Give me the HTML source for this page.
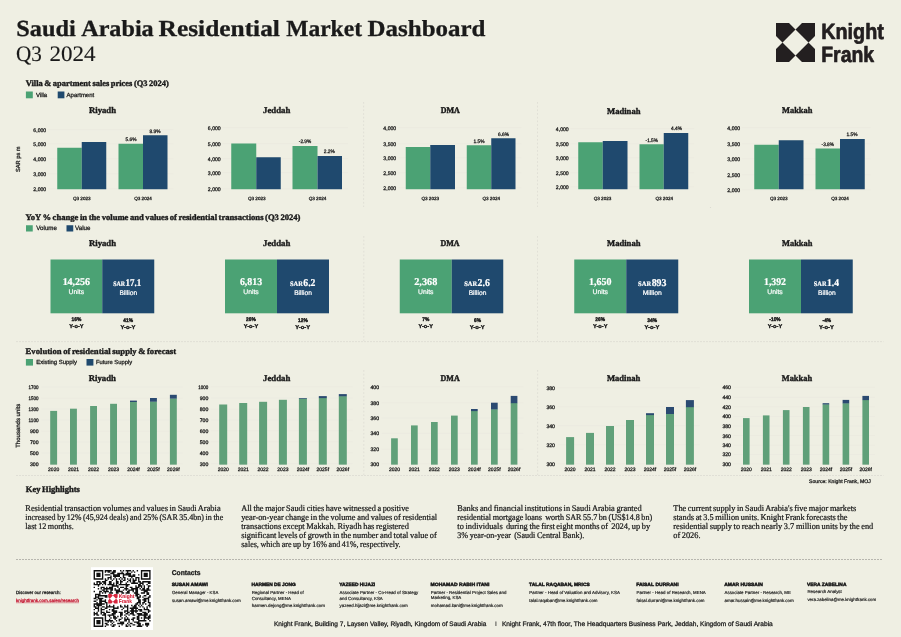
<!DOCTYPE html>
<html><head><meta charset="utf-8"><title>Saudi Arabia Residential Market Dashboard Q3 2024</title>
<style>
html,body{margin:0;padding:0;}
body{width:901px;height:637px;overflow:hidden;background:#efefe3;}
svg{display:block;position:absolute;left:0;top:0;will-change:transform;}
text{fill:#1a1a1a;stroke:#1a1a1a;stroke-width:0.27px;stroke-linejoin:round;white-space:pre;}
.ss{font-family:"Liberation Sans",sans-serif;font-weight:400;}
.ssb{font-family:"Liberation Sans",sans-serif;font-weight:700;}
.sf{font-family:"Liberation Serif",serif;font-weight:400;stroke-width:0.24px;word-spacing:-0.5px;}
.sfb{font-family:"Liberation Serif",serif;font-weight:700;stroke-width:0.38px;word-spacing:-0.6px;}
</style></head>
<body>
<svg width="901" height="637" viewBox="0 0 901 637" text-rendering="geometricPrecision">
<path transform="translate(776 22.9) scale(6.5)" fill="#231f20" fill-rule="evenodd" d="M0 0H2L3 1L4 0H6V2L5 3L6 4V6H4L3 5L2 6H0V4L1 3L0 2ZM3 1L5 3L3 5L1 3Z"/>
<rect x="25.9" y="91.5" width="6.9" height="6.8" fill="#4ba274"/>
<rect x="57.7" y="91.5" width="6.7" height="6.8" fill="#1f496e"/>
<rect x="47.75" y="129.25" width="125.75" height="0.8" fill="#ebeae0"/>
<rect x="47.75" y="143.5" width="125.75" height="0.8" fill="#ebeae0"/>
<rect x="47.75" y="158.5" width="125.75" height="0.8" fill="#ebeae0"/>
<rect x="47.75" y="173.5" width="125.75" height="0.8" fill="#ebeae0"/>
<rect x="47.75" y="188.5" width="125.75" height="0.8" fill="#ebeae0"/>
<rect x="57.25" y="147.75" width="24.5" height="41.5" fill="#4ba274"/>
<rect x="81.75" y="142" width="24.5" height="47.25" fill="#1f496e"/>
<rect x="118.5" y="143.75" width="24.5" height="45.5" fill="#4ba274"/>
<rect x="143" y="135.25" width="24.5" height="54" fill="#1f496e"/>
<rect x="222.25" y="127.25" width="125.75" height="0.8" fill="#ebeae0"/>
<rect x="222.25" y="143.25" width="125.75" height="0.8" fill="#ebeae0"/>
<rect x="222.25" y="158.25" width="125.75" height="0.8" fill="#ebeae0"/>
<rect x="222.25" y="172.25" width="125.75" height="0.8" fill="#ebeae0"/>
<rect x="222.25" y="188.5" width="125.75" height="0.8" fill="#ebeae0"/>
<rect x="231.25" y="143.5" width="25" height="45.75" fill="#4ba274"/>
<rect x="256.25" y="157.25" width="24.5" height="32" fill="#1f496e"/>
<rect x="292.5" y="146" width="25" height="43.25" fill="#4ba274"/>
<rect x="317.5" y="156" width="24.5" height="33.25" fill="#1f496e"/>
<rect x="397.75" y="127.25" width="123.75" height="0.8" fill="#ebeae0"/>
<rect x="397.75" y="143.5" width="123.75" height="0.8" fill="#ebeae0"/>
<rect x="397.75" y="157.5" width="123.75" height="0.8" fill="#ebeae0"/>
<rect x="397.75" y="172.5" width="123.75" height="0.8" fill="#ebeae0"/>
<rect x="397.75" y="187.5" width="123.75" height="0.8" fill="#ebeae0"/>
<rect x="405.75" y="147" width="24.5" height="42.25" fill="#4ba274"/>
<rect x="430.25" y="145" width="24.75" height="44.25" fill="#1f496e"/>
<rect x="466.75" y="145.25" width="24.5" height="44" fill="#4ba274"/>
<rect x="491.25" y="138.25" width="24.25" height="51" fill="#1f496e"/>
<rect x="570.25" y="128.25" width="124" height="0.8" fill="#ebeae0"/>
<rect x="570.25" y="143.5" width="124" height="0.8" fill="#ebeae0"/>
<rect x="570.25" y="157.5" width="124" height="0.8" fill="#ebeae0"/>
<rect x="570.25" y="172.5" width="124" height="0.8" fill="#ebeae0"/>
<rect x="570.25" y="186.5" width="124" height="0.8" fill="#ebeae0"/>
<rect x="578.25" y="142.25" width="24.5" height="47" fill="#4ba274"/>
<rect x="602.75" y="141" width="24.75" height="48.25" fill="#1f496e"/>
<rect x="639.5" y="144.25" width="24.25" height="45" fill="#4ba274"/>
<rect x="663.75" y="133" width="24.5" height="56.25" fill="#1f496e"/>
<rect x="741.75" y="127.25" width="129" height="0.8" fill="#ebeae0"/>
<rect x="741.75" y="143.5" width="129" height="0.8" fill="#ebeae0"/>
<rect x="741.75" y="158.5" width="129" height="0.8" fill="#ebeae0"/>
<rect x="741.75" y="174.5" width="129" height="0.8" fill="#ebeae0"/>
<rect x="741.75" y="189.5" width="129" height="0.8" fill="#ebeae0"/>
<rect x="754.25" y="144.75" width="24.5" height="44.5" fill="#4ba274"/>
<rect x="778.75" y="140.25" width="24.75" height="49" fill="#1f496e"/>
<rect x="815.5" y="148.5" width="24.5" height="40.75" fill="#4ba274"/>
<rect x="840" y="139" width="24.75" height="50.25" fill="#1f496e"/>
<line x1="363.6" y1="102" x2="363.6" y2="207" stroke="#dfded5" stroke-width="0.9" stroke-dasharray="1.7 2"/>
<line x1="537.5" y1="102" x2="537.5" y2="207" stroke="#dfded5" stroke-width="0.9" stroke-dasharray="1.7 2"/>
<circle cx="710.5" cy="207.5" r="0.6" fill="#d9d8cf"/>
<rect x="26" y="225.25" width="6.75" height="6.25" fill="#4ba274"/>
<rect x="66.5" y="225.25" width="6.75" height="6.25" fill="#1f496e"/>
<rect x="50.5" y="259.5" width="51.75" height="53.8" fill="#4ba274"/>
<rect x="102.25" y="259.5" width="52" height="53.8" fill="#1f496e"/>
<rect x="225" y="259.5" width="52" height="53.8" fill="#4ba274"/>
<rect x="277" y="259.5" width="52" height="53.8" fill="#1f496e"/>
<rect x="399.75" y="259.5" width="52" height="53.8" fill="#4ba274"/>
<rect x="451.75" y="259.5" width="51.5" height="53.8" fill="#1f496e"/>
<rect x="574.25" y="259.5" width="52" height="53.8" fill="#4ba274"/>
<rect x="626.25" y="259.5" width="52" height="53.8" fill="#1f496e"/>
<rect x="749" y="259.5" width="52" height="53.8" fill="#4ba274"/>
<rect x="801" y="259.5" width="51.75" height="53.8" fill="#1f496e"/>
<line x1="363.75" y1="236" x2="363.75" y2="341" stroke="#dfded5" stroke-width="0.9" stroke-dasharray="1.7 2"/>
<line x1="537.5" y1="236" x2="537.5" y2="341" stroke="#dfded5" stroke-width="0.9" stroke-dasharray="1.7 2"/>
<line x1="16" y1="341.6" x2="883.5" y2="341.6" stroke="#e0dfd6" stroke-width="1" stroke-dasharray="2 1"/>
<rect x="25.9" y="359" width="7.1" height="6.6" fill="#4ba274"/>
<rect x="86.5" y="359" width="6.9" height="6.6" fill="#1f496e"/>
<rect x="41.1" y="386.6" width="141.7" height="0.8" fill="#ebeae0"/>
<rect x="41.1" y="397.7" width="141.7" height="0.8" fill="#ebeae0"/>
<rect x="41.1" y="408.6" width="141.7" height="0.8" fill="#ebeae0"/>
<rect x="41.1" y="419.6" width="141.7" height="0.8" fill="#ebeae0"/>
<rect x="41.1" y="430.7" width="141.7" height="0.8" fill="#ebeae0"/>
<rect x="41.1" y="441.6" width="141.7" height="0.8" fill="#ebeae0"/>
<rect x="41.1" y="452.6" width="141.7" height="0.8" fill="#ebeae0"/>
<rect x="41.1" y="463.5" width="141.7" height="0.8" fill="#ebeae0"/>
<rect x="50.2" y="410.9" width="6.9" height="53.75" fill="#60a079"/>
<rect x="70" y="408.7" width="6.9" height="55.95" fill="#60a079"/>
<rect x="90.1" y="406" width="6.9" height="58.65" fill="#60a079"/>
<rect x="110.1" y="403.8" width="6.9" height="60.85" fill="#60a079"/>
<rect x="130" y="401.8" width="6.9" height="62.85" fill="#60a079"/>
<rect x="130" y="400.6" width="6.9" height="1.4" fill="#2b4a71"/>
<rect x="150" y="401.5" width="6.9" height="63.15" fill="#60a079"/>
<rect x="150" y="398" width="6.9" height="3.7" fill="#2b4a71"/>
<rect x="169.9" y="398.4" width="6.9" height="66.25" fill="#60a079"/>
<rect x="169.9" y="394.8" width="6.9" height="3.8" fill="#2b4a71"/>
<rect x="210.8" y="386.5" width="142" height="0.8" fill="#ebeae0"/>
<rect x="210.8" y="397.6" width="142" height="0.8" fill="#ebeae0"/>
<rect x="210.8" y="408.7" width="142" height="0.8" fill="#ebeae0"/>
<rect x="210.8" y="419.6" width="142" height="0.8" fill="#ebeae0"/>
<rect x="210.8" y="430.4" width="142" height="0.8" fill="#ebeae0"/>
<rect x="210.8" y="441.5" width="142" height="0.8" fill="#ebeae0"/>
<rect x="210.8" y="452.4" width="142" height="0.8" fill="#ebeae0"/>
<rect x="210.8" y="463.3" width="142" height="0.8" fill="#ebeae0"/>
<rect x="219.2" y="404.5" width="8" height="60.15" fill="#60a079"/>
<rect x="239.2" y="403" width="8" height="61.65" fill="#60a079"/>
<rect x="259.1" y="401.8" width="8" height="62.85" fill="#60a079"/>
<rect x="278.9" y="399.8" width="8" height="64.85" fill="#60a079"/>
<rect x="298.9" y="398.5" width="8" height="66.15" fill="#60a079"/>
<rect x="298.9" y="398" width="8" height="0.7" fill="#2b4a71"/>
<rect x="318.8" y="397.9" width="8" height="66.75" fill="#60a079"/>
<rect x="318.8" y="396.1" width="8" height="2" fill="#2b4a71"/>
<rect x="338.8" y="396.1" width="8" height="68.55" fill="#60a079"/>
<rect x="338.8" y="394.1" width="8" height="2.2" fill="#2b4a71"/>
<rect x="381.6" y="386.5" width="141.8" height="0.8" fill="#ebeae0"/>
<rect x="381.6" y="402.5" width="141.8" height="0.8" fill="#ebeae0"/>
<rect x="381.6" y="417.6" width="141.8" height="0.8" fill="#ebeae0"/>
<rect x="381.6" y="432.9" width="141.8" height="0.8" fill="#ebeae0"/>
<rect x="381.6" y="448.7" width="141.8" height="0.8" fill="#ebeae0"/>
<rect x="381.6" y="463.5" width="141.8" height="0.8" fill="#ebeae0"/>
<rect x="391.1" y="438.3" width="6.7" height="26.35" fill="#60a079"/>
<rect x="411" y="425.4" width="6.7" height="39.25" fill="#60a079"/>
<rect x="431" y="422" width="6.7" height="42.65" fill="#60a079"/>
<rect x="451" y="415.6" width="6.7" height="49.05" fill="#60a079"/>
<rect x="471" y="410.9" width="6.7" height="53.75" fill="#60a079"/>
<rect x="471" y="409" width="6.7" height="2.1" fill="#2b4a71"/>
<rect x="491" y="409.2" width="6.7" height="55.45" fill="#60a079"/>
<rect x="491" y="402.7" width="6.7" height="6.7" fill="#2b4a71"/>
<rect x="510.7" y="403" width="6.7" height="61.65" fill="#60a079"/>
<rect x="510.7" y="395.9" width="6.7" height="7.3" fill="#2b4a71"/>
<rect x="557.5" y="387.4" width="142.4" height="0.8" fill="#ebeae0"/>
<rect x="557.5" y="406.5" width="142.4" height="0.8" fill="#ebeae0"/>
<rect x="557.5" y="425.3" width="142.4" height="0.8" fill="#ebeae0"/>
<rect x="557.5" y="444.4" width="142.4" height="0.8" fill="#ebeae0"/>
<rect x="557.5" y="463.5" width="142.4" height="0.8" fill="#ebeae0"/>
<rect x="566.1" y="437.1" width="8" height="27.55" fill="#60a079"/>
<rect x="586" y="432.9" width="8" height="31.75" fill="#60a079"/>
<rect x="606" y="426" width="8" height="38.65" fill="#60a079"/>
<rect x="626" y="420" width="8" height="44.65" fill="#60a079"/>
<rect x="646" y="414.9" width="8" height="49.75" fill="#60a079"/>
<rect x="646" y="413.2" width="8" height="1.9" fill="#2b4a71"/>
<rect x="666" y="413.8" width="8" height="50.85" fill="#60a079"/>
<rect x="666" y="407" width="8" height="7" fill="#2b4a71"/>
<rect x="685.9" y="407" width="8" height="57.65" fill="#60a079"/>
<rect x="685.9" y="400.1" width="8" height="7.1" fill="#2b4a71"/>
<rect x="733.5" y="386.7" width="141.5" height="0.8" fill="#ebeae0"/>
<rect x="733.5" y="396.9" width="141.5" height="0.8" fill="#ebeae0"/>
<rect x="733.5" y="406.5" width="141.5" height="0.8" fill="#ebeae0"/>
<rect x="733.5" y="416" width="141.5" height="0.8" fill="#ebeae0"/>
<rect x="733.5" y="425.6" width="141.5" height="0.8" fill="#ebeae0"/>
<rect x="733.5" y="435.1" width="141.5" height="0.8" fill="#ebeae0"/>
<rect x="733.5" y="444.7" width="141.5" height="0.8" fill="#ebeae0"/>
<rect x="733.5" y="454" width="141.5" height="0.8" fill="#ebeae0"/>
<rect x="733.5" y="463.5" width="141.5" height="0.8" fill="#ebeae0"/>
<rect x="743" y="418.1" width="6.6" height="46.55" fill="#60a079"/>
<rect x="762.9" y="415.4" width="6.6" height="49.25" fill="#60a079"/>
<rect x="782.9" y="410.1" width="6.6" height="54.55" fill="#60a079"/>
<rect x="802.9" y="407" width="6.6" height="57.65" fill="#60a079"/>
<rect x="822.6" y="404.3" width="6.6" height="60.35" fill="#60a079"/>
<rect x="822.6" y="403.2" width="6.6" height="1.3" fill="#2b4a71"/>
<rect x="842.6" y="403.2" width="6.6" height="61.45" fill="#60a079"/>
<rect x="842.6" y="399.9" width="6.6" height="3.5" fill="#2b4a71"/>
<rect x="862.4" y="399.9" width="6.6" height="64.75" fill="#60a079"/>
<rect x="862.4" y="395.9" width="6.6" height="4.2" fill="#2b4a71"/>
<line x1="363.75" y1="370" x2="363.75" y2="475" stroke="#dfded5" stroke-width="0.9" stroke-dasharray="1.7 2"/>
<line x1="537.6" y1="370" x2="537.6" y2="475" stroke="#dfded5" stroke-width="0.9" stroke-dasharray="1.7 2"/>
<line x1="16" y1="475.5" x2="883.5" y2="475.5" stroke="#e0dfd6" stroke-width="1" stroke-dasharray="2 1"/>
<line x1="16" y1="559.5" x2="883" y2="559.5" stroke="#b7b6ae" stroke-width="1" stroke-dasharray="2 1"/>
<rect x="16" y="602.7" width="63" height="0.4" fill="#c4122f"/>
<rect x="91" y="567.2" width="62" height="62.8" fill="#fff"/>
<path transform="translate(93.6 570.0) scale(1.39)" fill="#111" d="M0 0h7v1h-7zM8 0h5v1h-5zM14 0h2v1h-2zM19 0h1v1h-1zM21 0h1v1h-1zM23 0h4v1h-4zM28 0h1v1h-1zM31 0h1v1h-1zM34 0h7v1h-7zM0 1h1v1h-1zM6 1h1v1h-1zM8 1h1v1h-1zM10 1h2v1h-2zM13 1h3v1h-3zM20 1h1v1h-1zM24 1h1v1h-1zM27 1h1v1h-1zM29 1h1v1h-1zM34 1h1v1h-1zM40 1h1v1h-1zM0 2h1v1h-1zM2 2h3v1h-3zM6 2h1v1h-1zM12 2h3v1h-3zM17 2h5v1h-5zM23 2h4v1h-4zM34 2h1v1h-1zM36 2h3v1h-3zM40 2h1v1h-1zM0 3h1v1h-1zM2 3h3v1h-3zM6 3h1v1h-1zM8 3h4v1h-4zM14 3h5v1h-5zM21 3h6v1h-6zM28 3h2v1h-2zM32 3h1v1h-1zM34 3h1v1h-1zM36 3h3v1h-3zM40 3h1v1h-1zM0 4h1v1h-1zM2 4h3v1h-3zM6 4h1v1h-1zM12 4h1v1h-1zM14 4h5v1h-5zM21 4h1v1h-1zM25 4h5v1h-5zM34 4h1v1h-1zM36 4h3v1h-3zM40 4h1v1h-1zM0 5h1v1h-1zM6 5h1v1h-1zM10 5h3v1h-3zM15 5h1v1h-1zM19 5h1v1h-1zM21 5h2v1h-2zM27 5h1v1h-1zM30 5h3v1h-3zM34 5h1v1h-1zM40 5h1v1h-1zM0 6h7v1h-7zM8 6h1v1h-1zM10 6h1v1h-1zM12 6h1v1h-1zM14 6h1v1h-1zM16 6h1v1h-1zM18 6h1v1h-1zM20 6h1v1h-1zM22 6h1v1h-1zM24 6h1v1h-1zM26 6h1v1h-1zM28 6h1v1h-1zM30 6h1v1h-1zM32 6h1v1h-1zM34 6h7v1h-7zM8 7h2v1h-2zM13 7h1v1h-1zM16 7h1v1h-1zM19 7h1v1h-1zM21 7h2v1h-2zM25 7h2v1h-2zM28 7h3v1h-3zM32 7h1v1h-1zM2 8h3v1h-3zM6 8h3v1h-3zM11 8h2v1h-2zM16 8h2v1h-2zM19 8h2v1h-2zM24 8h1v1h-1zM26 8h1v1h-1zM28 8h2v1h-2zM32 8h2v1h-2zM35 8h6v1h-6zM0 9h1v1h-1zM2 9h1v1h-1zM4 9h2v1h-2zM7 9h2v1h-2zM11 9h2v1h-2zM14 9h1v1h-1zM16 9h2v1h-2zM19 9h1v1h-1zM23 9h1v1h-1zM27 9h5v1h-5zM33 9h3v1h-3zM39 9h2v1h-2zM0 10h5v1h-5zM6 10h1v1h-1zM8 10h1v1h-1zM10 10h5v1h-5zM16 10h1v1h-1zM18 10h8v1h-8zM32 10h2v1h-2zM35 10h1v1h-1zM38 10h1v1h-1zM3 11h1v1h-1zM13 11h5v1h-5zM23 11h2v1h-2zM30 11h1v1h-1zM32 11h3v1h-3zM36 11h1v1h-1zM39 11h2v1h-2zM0 12h1v1h-1zM5 12h3v1h-3zM9 12h1v1h-1zM11 12h3v1h-3zM17 12h1v1h-1zM19 12h3v1h-3zM23 12h1v1h-1zM26 12h2v1h-2zM30 12h3v1h-3zM34 12h1v1h-1zM36 12h1v1h-1zM39 12h1v1h-1zM3 13h1v1h-1zM5 13h1v1h-1zM7 13h7v1h-7zM15 13h1v1h-1zM18 13h1v1h-1zM22 13h3v1h-3zM27 13h5v1h-5zM33 13h1v1h-1zM35 13h2v1h-2zM38 13h2v1h-2zM6 14h2v1h-2zM9 14h1v1h-1zM12 14h2v1h-2zM15 14h4v1h-4zM21 14h1v1h-1zM23 14h1v1h-1zM25 14h4v1h-4zM30 14h2v1h-2zM34 14h7v1h-7zM0 15h1v1h-1zM4 15h2v1h-2zM7 15h4v1h-4zM12 15h1v1h-1zM16 15h5v1h-5zM24 15h2v1h-2zM28 15h1v1h-1zM30 15h2v1h-2zM36 15h3v1h-3zM4 16h1v1h-1zM6 16h1v1h-1zM8 16h1v1h-1zM11 16h3v1h-3zM16 16h2v1h-2zM20 16h2v1h-2zM23 16h3v1h-3zM29 16h3v1h-3zM34 16h3v1h-3zM38 16h2v1h-2zM1 17h4v1h-4zM30 17h3v1h-3zM38 17h2v1h-2zM1 18h1v1h-1zM3 18h7v1h-7zM30 18h2v1h-2zM33 18h1v1h-1zM36 18h2v1h-2zM40 18h1v1h-1zM1 19h3v1h-3zM8 19h2v1h-2zM31 19h3v1h-3zM35 19h1v1h-1zM39 19h2v1h-2zM0 20h2v1h-2zM3 20h4v1h-4zM31 20h2v1h-2zM36 20h4v1h-4zM2 21h1v1h-1zM4 21h2v1h-2zM8 21h1v1h-1zM32 21h2v1h-2zM35 21h3v1h-3zM39 21h1v1h-1zM0 22h2v1h-2zM4 22h5v1h-5zM32 22h2v1h-2zM36 22h2v1h-2zM39 22h1v1h-1zM2 23h1v1h-1zM4 23h2v1h-2zM8 23h2v1h-2zM31 23h3v1h-3zM35 23h2v1h-2zM39 23h2v1h-2zM0 24h8v1h-8zM9 24h1v1h-1zM30 24h2v1h-2zM33 24h1v1h-1zM35 24h1v1h-1zM37 24h1v1h-1zM40 24h1v1h-1zM0 25h1v1h-1zM2 25h4v1h-4zM9 25h1v1h-1zM11 25h1v1h-1zM14 25h1v1h-1zM19 25h1v1h-1zM22 25h1v1h-1zM24 25h1v1h-1zM27 25h1v1h-1zM29 25h2v1h-2zM32 25h1v1h-1zM34 25h1v1h-1zM39 25h2v1h-2zM0 26h2v1h-2zM3 26h1v1h-1zM6 26h2v1h-2zM9 26h6v1h-6zM17 26h1v1h-1zM19 26h2v1h-2zM22 26h3v1h-3zM28 26h3v1h-3zM33 26h1v1h-1zM35 26h1v1h-1zM38 26h1v1h-1zM40 26h1v1h-1zM1 27h3v1h-3zM5 27h1v1h-1zM8 27h2v1h-2zM14 27h4v1h-4zM21 27h1v1h-1zM24 27h1v1h-1zM26 27h6v1h-6zM36 27h1v1h-1zM38 27h1v1h-1zM0 28h1v1h-1zM3 28h1v1h-1zM5 28h3v1h-3zM11 28h1v1h-1zM13 28h2v1h-2zM20 28h1v1h-1zM24 28h1v1h-1zM27 28h2v1h-2zM30 28h1v1h-1zM32 28h3v1h-3zM36 28h4v1h-4zM3 29h1v1h-1zM5 29h1v1h-1zM9 29h1v1h-1zM13 29h4v1h-4zM22 29h3v1h-3zM26 29h6v1h-6zM33 29h2v1h-2zM39 29h2v1h-2zM0 30h1v1h-1zM2 30h1v1h-1zM5 30h3v1h-3zM9 30h3v1h-3zM14 30h3v1h-3zM18 30h3v1h-3zM22 30h1v1h-1zM24 30h2v1h-2zM27 30h2v1h-2zM30 30h1v1h-1zM35 30h3v1h-3zM39 30h1v1h-1zM0 31h3v1h-3zM5 31h1v1h-1zM7 31h2v1h-2zM13 31h3v1h-3zM19 31h2v1h-2zM23 31h2v1h-2zM26 31h3v1h-3zM31 31h4v1h-4zM36 31h3v1h-3zM0 32h1v1h-1zM2 32h2v1h-2zM6 32h3v1h-3zM10 32h5v1h-5zM19 32h2v1h-2zM22 32h1v1h-1zM25 32h1v1h-1zM28 32h2v1h-2zM32 32h7v1h-7zM40 32h1v1h-1zM8 33h1v1h-1zM11 33h1v1h-1zM14 33h2v1h-2zM17 33h1v1h-1zM19 33h1v1h-1zM23 33h1v1h-1zM31 33h2v1h-2zM36 33h2v1h-2zM39 33h2v1h-2zM0 34h7v1h-7zM8 34h1v1h-1zM12 34h1v1h-1zM14 34h3v1h-3zM20 34h1v1h-1zM22 34h1v1h-1zM24 34h1v1h-1zM28 34h2v1h-2zM31 34h2v1h-2zM34 34h1v1h-1zM36 34h5v1h-5zM0 35h1v1h-1zM6 35h1v1h-1zM8 35h1v1h-1zM11 35h1v1h-1zM15 35h1v1h-1zM18 35h2v1h-2zM22 35h4v1h-4zM27 35h2v1h-2zM31 35h2v1h-2zM36 35h1v1h-1zM39 35h1v1h-1zM0 36h1v1h-1zM2 36h3v1h-3zM6 36h1v1h-1zM8 36h6v1h-6zM16 36h1v1h-1zM18 36h1v1h-1zM22 36h2v1h-2zM25 36h1v1h-1zM28 36h1v1h-1zM32 36h6v1h-6zM40 36h1v1h-1zM0 37h1v1h-1zM2 37h3v1h-3zM6 37h1v1h-1zM10 37h1v1h-1zM12 37h1v1h-1zM14 37h1v1h-1zM19 37h3v1h-3zM25 37h1v1h-1zM29 37h4v1h-4zM0 38h1v1h-1zM2 38h3v1h-3zM6 38h1v1h-1zM8 38h2v1h-2zM13 38h1v1h-1zM17 38h5v1h-5zM24 38h1v1h-1zM26 38h2v1h-2zM31 38h3v1h-3zM37 38h3v1h-3zM0 39h1v1h-1zM6 39h1v1h-1zM9 39h2v1h-2zM12 39h1v1h-1zM14 39h2v1h-2zM20 39h1v1h-1zM23 39h1v1h-1zM25 39h1v1h-1zM28 39h2v1h-2zM32 39h2v1h-2zM35 39h1v1h-1zM37 39h3v1h-3zM0 40h7v1h-7zM8 40h1v1h-1zM13 40h2v1h-2zM18 40h1v1h-1zM23 40h2v1h-2zM26 40h1v1h-1zM31 40h4v1h-4zM38 40h1v1h-1z"/>
<path transform="translate(108.2 594) scale(1.57)" fill="#d7263d" fill-rule="evenodd" d="M0 0H2L3 1L4 0H6V2L5 3L6 4V6H4L3 5L2 6H0V4L1 3L0 2ZM3 1L5 3L3 5L1 3Z"/>
<text x="16.3" y="35.5" class="sfb" font-size="23" textLength="59.4" lengthAdjust="spacingAndGlyphs" style="stroke-width:0.3px;">Saudi</text>
<text x="81.2" y="35.5" class="sfb" font-size="23" textLength="72.5" lengthAdjust="spacingAndGlyphs" style="stroke-width:0.3px;">Arabia</text>
<text x="158.6" y="35.5" class="sfb" font-size="23" textLength="121.3" lengthAdjust="spacingAndGlyphs" style="stroke-width:0.3px;">Residential</text>
<text x="286.2" y="35.5" class="sfb" font-size="23" textLength="75.8" lengthAdjust="spacingAndGlyphs" style="stroke-width:0.3px;">Market</text>
<text x="367.5" y="35.5" class="sfb" font-size="23" textLength="118" lengthAdjust="spacingAndGlyphs" style="stroke-width:0.3px;">Dashboard</text>
<text x="16" y="61.3" class="sf" font-size="22" textLength="25.8" lengthAdjust="spacingAndGlyphs" style="stroke-width:0.15px;">Q3</text>
<text x="49.4" y="61.3" class="sf" font-size="22" textLength="46" lengthAdjust="spacingAndGlyphs" style="stroke-width:0.15px;">2024</text>
<text x="821.2" y="38.9" class="ssb" font-size="22.1" textLength="62.7" lengthAdjust="spacingAndGlyphs" style="fill:#231f20;stroke:#231f20;stroke-width:0.7px;">Knight</text>
<text x="821.2" y="61.5" class="ssb" font-size="22.1" textLength="53" lengthAdjust="spacingAndGlyphs" style="fill:#231f20;stroke:#231f20;stroke-width:0.7px;">Frank</text>
<text x="25.7" y="85.6" class="sfb" font-size="8.4" textLength="143.1" lengthAdjust="spacingAndGlyphs">Villa &amp; apartment sales prices (Q3 2024)</text>
<text x="36" y="96.86" class="ss" font-size="6" textLength="11.2" lengthAdjust="spacingAndGlyphs">Villa</text>
<text x="66.6" y="96.86" class="ss" font-size="6" textLength="27.6" lengthAdjust="spacingAndGlyphs">Apartment</text>
<text x="17.9" y="161.23" class="ss" font-size="5.9" text-anchor="middle" textLength="25.6" lengthAdjust="spacingAndGlyphs" transform="rotate(-90 17.9 159.2)">SAR ps m</text>
<text x="102.5" y="112.85" class="sfb" font-size="8.7" text-anchor="middle" textLength="27.1" lengthAdjust="spacingAndGlyphs">Riyadh</text>
<text x="46.25" y="132.04" class="ss" font-size="5.2" text-anchor="end" textLength="12.9" lengthAdjust="spacingAndGlyphs">6,000</text>
<text x="46.25" y="146.29" class="ss" font-size="5.2" text-anchor="end" textLength="12.9" lengthAdjust="spacingAndGlyphs">5,000</text>
<text x="46.25" y="161.29" class="ss" font-size="5.2" text-anchor="end" textLength="12.9" lengthAdjust="spacingAndGlyphs">4,000</text>
<text x="46.25" y="176.29" class="ss" font-size="5.2" text-anchor="end" textLength="12.9" lengthAdjust="spacingAndGlyphs">3,000</text>
<text x="46.25" y="191.29" class="ss" font-size="5.2" text-anchor="end" textLength="12.9" lengthAdjust="spacingAndGlyphs">2,000</text>
<text x="131" y="141.22" class="ss" font-size="5" text-anchor="middle" textLength="11" lengthAdjust="spacingAndGlyphs">5.6%</text>
<text x="155" y="133.22" class="ss" font-size="5" text-anchor="middle" textLength="11" lengthAdjust="spacingAndGlyphs">8.9%</text>
<text x="81.75" y="199.83" class="ss" font-size="4.6" text-anchor="middle">Q3 2023</text>
<text x="143" y="199.83" class="ss" font-size="4.6" text-anchor="middle">Q3 2024</text>
<text x="276.75" y="112.85" class="sfb" font-size="8.7" text-anchor="middle" textLength="27.3" lengthAdjust="spacingAndGlyphs">Jeddah</text>
<text x="220.75" y="130.04" class="ss" font-size="5.2" text-anchor="end" textLength="12.9" lengthAdjust="spacingAndGlyphs">6,000</text>
<text x="220.75" y="146.04" class="ss" font-size="5.2" text-anchor="end" textLength="12.9" lengthAdjust="spacingAndGlyphs">5,000</text>
<text x="220.75" y="161.04" class="ss" font-size="5.2" text-anchor="end" textLength="12.9" lengthAdjust="spacingAndGlyphs">4,000</text>
<text x="220.75" y="175.04" class="ss" font-size="5.2" text-anchor="end" textLength="12.9" lengthAdjust="spacingAndGlyphs">3,000</text>
<text x="220.75" y="191.29" class="ss" font-size="5.2" text-anchor="end" textLength="12.9" lengthAdjust="spacingAndGlyphs">2,000</text>
<text x="305" y="143.22" class="ss" font-size="5" text-anchor="middle" textLength="12.4" lengthAdjust="spacingAndGlyphs">-2.9%</text>
<text x="329.25" y="153.22" class="ss" font-size="5" text-anchor="middle" textLength="11" lengthAdjust="spacingAndGlyphs">2.2%</text>
<text x="256.75" y="199.83" class="ss" font-size="4.6" text-anchor="middle">Q3 2023</text>
<text x="317.5" y="199.83" class="ss" font-size="4.6" text-anchor="middle">Q3 2024</text>
<text x="450.25" y="113.35" class="sfb" font-size="8.7" text-anchor="middle" textLength="19.2" lengthAdjust="spacingAndGlyphs">DMA</text>
<text x="396.25" y="130.04" class="ss" font-size="5.2" text-anchor="end" textLength="12.9" lengthAdjust="spacingAndGlyphs">4,000</text>
<text x="396.25" y="146.29" class="ss" font-size="5.2" text-anchor="end" textLength="12.9" lengthAdjust="spacingAndGlyphs">3,500</text>
<text x="396.25" y="160.29" class="ss" font-size="5.2" text-anchor="end" textLength="12.9" lengthAdjust="spacingAndGlyphs">3,000</text>
<text x="396.25" y="175.29" class="ss" font-size="5.2" text-anchor="end" textLength="12.9" lengthAdjust="spacingAndGlyphs">2,500</text>
<text x="396.25" y="190.29" class="ss" font-size="5.2" text-anchor="end" textLength="12.9" lengthAdjust="spacingAndGlyphs">2,000</text>
<text x="479" y="143.22" class="ss" font-size="5" text-anchor="middle" textLength="11" lengthAdjust="spacingAndGlyphs">1.5%</text>
<text x="503.5" y="135.97" class="ss" font-size="5" text-anchor="middle" textLength="11" lengthAdjust="spacingAndGlyphs">6.6%</text>
<text x="430.25" y="199.83" class="ss" font-size="4.6" text-anchor="middle">Q3 2023</text>
<text x="491.25" y="199.83" class="ss" font-size="4.6" text-anchor="middle">Q3 2024</text>
<text x="623.75" y="114.1" class="sfb" font-size="8.7" text-anchor="middle" textLength="33.4" lengthAdjust="spacingAndGlyphs">Madinah</text>
<text x="568.75" y="131.04" class="ss" font-size="5.2" text-anchor="end" textLength="12.9" lengthAdjust="spacingAndGlyphs">4,000</text>
<text x="568.75" y="146.29" class="ss" font-size="5.2" text-anchor="end" textLength="12.9" lengthAdjust="spacingAndGlyphs">3,500</text>
<text x="568.75" y="160.29" class="ss" font-size="5.2" text-anchor="end" textLength="12.9" lengthAdjust="spacingAndGlyphs">3,000</text>
<text x="568.75" y="175.29" class="ss" font-size="5.2" text-anchor="end" textLength="12.9" lengthAdjust="spacingAndGlyphs">2,500</text>
<text x="568.75" y="189.29" class="ss" font-size="5.2" text-anchor="end" textLength="12.9" lengthAdjust="spacingAndGlyphs">2,000</text>
<text x="651.75" y="141.97" class="ss" font-size="5" text-anchor="middle" textLength="12.4" lengthAdjust="spacingAndGlyphs">-1.5%</text>
<text x="676.5" y="129.97" class="ss" font-size="5" text-anchor="middle" textLength="11" lengthAdjust="spacingAndGlyphs">4.4%</text>
<text x="602.5" y="199.83" class="ss" font-size="4.6" text-anchor="middle">Q3 2023</text>
<text x="664.25" y="199.83" class="ss" font-size="4.6" text-anchor="middle">Q3 2024</text>
<text x="797.25" y="112.85" class="sfb" font-size="8.7" text-anchor="middle" textLength="30.3" lengthAdjust="spacingAndGlyphs">Makkah</text>
<text x="740.25" y="130.04" class="ss" font-size="5.2" text-anchor="end" textLength="12.9" lengthAdjust="spacingAndGlyphs">4,000</text>
<text x="740.25" y="146.29" class="ss" font-size="5.2" text-anchor="end" textLength="12.9" lengthAdjust="spacingAndGlyphs">3,500</text>
<text x="740.25" y="161.29" class="ss" font-size="5.2" text-anchor="end" textLength="12.9" lengthAdjust="spacingAndGlyphs">3,000</text>
<text x="740.25" y="177.29" class="ss" font-size="5.2" text-anchor="end" textLength="12.9" lengthAdjust="spacingAndGlyphs">2,500</text>
<text x="740.25" y="192.29" class="ss" font-size="5.2" text-anchor="end" textLength="12.9" lengthAdjust="spacingAndGlyphs">2,000</text>
<text x="827.75" y="146.22" class="ss" font-size="5" text-anchor="middle" textLength="12.4" lengthAdjust="spacingAndGlyphs">-3.8%</text>
<text x="852" y="135.97" class="ss" font-size="5" text-anchor="middle" textLength="11" lengthAdjust="spacingAndGlyphs">1.5%</text>
<text x="778.75" y="199.83" class="ss" font-size="4.6" text-anchor="middle">Q3 2023</text>
<text x="840" y="199.83" class="ss" font-size="4.6" text-anchor="middle">Q3 2024</text>
<text x="25.5" y="219.5" class="sfb" font-size="8.4" textLength="275" lengthAdjust="spacingAndGlyphs">YoY % change in the volume and values of residential transactions (Q3 2024)</text>
<text x="36.25" y="230.43" class="ss" font-size="6.2" textLength="20.75" lengthAdjust="spacingAndGlyphs">Volume</text>
<text x="75" y="230.43" class="ss" font-size="6.2" textLength="15.5" lengthAdjust="spacingAndGlyphs">Value</text>
<text x="102.5" y="245.95" class="sfb" font-size="8.7" text-anchor="middle" textLength="27.1" lengthAdjust="spacingAndGlyphs">Riyadh</text>
<text x="76.38" y="285.11" class="sfb" font-size="10.4" text-anchor="middle" textLength="27.5" lengthAdjust="spacingAndGlyphs" style="fill:#fff;stroke:#fff;stroke-width:0.2px;">14,256</text>
<text x="76.38" y="294.1" class="ss" font-size="6.7" text-anchor="middle" textLength="15.5" lengthAdjust="spacingAndGlyphs" style="fill:#fff;stroke:#fff;stroke-width:0.2px;">Units</text>
<text x="127.25" y="286.4" class="sfb" font-size="10.4" text-anchor="middle" textLength="28" lengthAdjust="spacingAndGlyphs" style="fill:#fff;stroke:#fff;stroke-width:0.2px;"><tspan font-size="6.9">SAR</tspan><tspan dx="0.5">17.1</tspan></text>
<text x="128.25" y="295.1" class="ss" font-size="6.7" text-anchor="middle" textLength="17.75" lengthAdjust="spacingAndGlyphs" style="fill:#fff;stroke:#fff;stroke-width:0.2px;">Billion</text>
<text x="76.38" y="321.12" class="ssb" font-size="5.3" text-anchor="middle" textLength="9.76" lengthAdjust="spacingAndGlyphs" style="stroke-width:0.42px;">16%</text>
<text x="76.38" y="328.43" class="ssb" font-size="5.6" text-anchor="middle" textLength="14.4" lengthAdjust="spacingAndGlyphs" style="stroke-width:0.35px;">Y-o-Y</text>
<text x="128.25" y="322.22" class="ssb" font-size="5.3" text-anchor="middle" textLength="9.76" lengthAdjust="spacingAndGlyphs" style="stroke-width:0.42px;">41%</text>
<text x="127.85" y="329.43" class="ssb" font-size="5.6" text-anchor="middle" textLength="14.9" lengthAdjust="spacingAndGlyphs" style="stroke-width:0.35px;">Y-o-Y</text>
<text x="276.75" y="245.95" class="sfb" font-size="8.7" text-anchor="middle" textLength="27.3" lengthAdjust="spacingAndGlyphs">Jeddah</text>
<text x="251" y="285.11" class="sfb" font-size="10.4" text-anchor="middle" textLength="22.25" lengthAdjust="spacingAndGlyphs" style="fill:#fff;stroke:#fff;stroke-width:0.2px;">6,813</text>
<text x="251" y="294.1" class="ss" font-size="6.7" text-anchor="middle" textLength="15.5" lengthAdjust="spacingAndGlyphs" style="fill:#fff;stroke:#fff;stroke-width:0.2px;">Units</text>
<text x="302.75" y="286.4" class="sfb" font-size="10.4" text-anchor="middle" textLength="25.5" lengthAdjust="spacingAndGlyphs" style="fill:#fff;stroke:#fff;stroke-width:0.2px;"><tspan font-size="6.9">SAR</tspan><tspan dx="0.5">6.2</tspan></text>
<text x="303" y="295.1" class="ss" font-size="6.7" text-anchor="middle" textLength="17.75" lengthAdjust="spacingAndGlyphs" style="fill:#fff;stroke:#fff;stroke-width:0.2px;">Billion</text>
<text x="251" y="321.12" class="ssb" font-size="5.3" text-anchor="middle" textLength="9.76" lengthAdjust="spacingAndGlyphs" style="stroke-width:0.42px;">26%</text>
<text x="251" y="328.43" class="ssb" font-size="5.6" text-anchor="middle" textLength="14.4" lengthAdjust="spacingAndGlyphs" style="stroke-width:0.35px;">Y-o-Y</text>
<text x="303" y="322.22" class="ssb" font-size="5.3" text-anchor="middle" textLength="9.76" lengthAdjust="spacingAndGlyphs" style="stroke-width:0.42px;">12%</text>
<text x="302.6" y="329.43" class="ssb" font-size="5.6" text-anchor="middle" textLength="14.9" lengthAdjust="spacingAndGlyphs" style="stroke-width:0.35px;">Y-o-Y</text>
<text x="450" y="245.95" class="sfb" font-size="8.7" text-anchor="middle" textLength="19.2" lengthAdjust="spacingAndGlyphs">DMA</text>
<text x="425.75" y="285.11" class="sfb" font-size="10.4" text-anchor="middle" textLength="23" lengthAdjust="spacingAndGlyphs" style="fill:#fff;stroke:#fff;stroke-width:0.2px;">2,368</text>
<text x="425.75" y="294.1" class="ss" font-size="6.7" text-anchor="middle" textLength="15.5" lengthAdjust="spacingAndGlyphs" style="fill:#fff;stroke:#fff;stroke-width:0.2px;">Units</text>
<text x="477" y="286.4" class="sfb" font-size="10.4" text-anchor="middle" textLength="25.75" lengthAdjust="spacingAndGlyphs" style="fill:#fff;stroke:#fff;stroke-width:0.2px;"><tspan font-size="6.9">SAR</tspan><tspan dx="0.5">2.6</tspan></text>
<text x="477.5" y="295.1" class="ss" font-size="6.7" text-anchor="middle" textLength="17.75" lengthAdjust="spacingAndGlyphs" style="fill:#fff;stroke:#fff;stroke-width:0.2px;">Billion</text>
<text x="425.75" y="321.12" class="ssb" font-size="5.3" text-anchor="middle" textLength="7.05" lengthAdjust="spacingAndGlyphs" style="stroke-width:0.42px;">7%</text>
<text x="425.75" y="328.43" class="ssb" font-size="5.6" text-anchor="middle" textLength="14.4" lengthAdjust="spacingAndGlyphs" style="stroke-width:0.35px;">Y-o-Y</text>
<text x="477.5" y="322.22" class="ssb" font-size="5.3" text-anchor="middle" textLength="7.05" lengthAdjust="spacingAndGlyphs" style="stroke-width:0.42px;">6%</text>
<text x="477.1" y="329.43" class="ssb" font-size="5.6" text-anchor="middle" textLength="14.9" lengthAdjust="spacingAndGlyphs" style="stroke-width:0.35px;">Y-o-Y</text>
<text x="623.75" y="245.95" class="sfb" font-size="8.7" text-anchor="middle" textLength="33.4" lengthAdjust="spacingAndGlyphs">Madinah</text>
<text x="600.25" y="285.11" class="sfb" font-size="10.4" text-anchor="middle" textLength="22.5" lengthAdjust="spacingAndGlyphs" style="fill:#fff;stroke:#fff;stroke-width:0.2px;">1,650</text>
<text x="600.25" y="294.1" class="ss" font-size="6.7" text-anchor="middle" textLength="15.5" lengthAdjust="spacingAndGlyphs" style="fill:#fff;stroke:#fff;stroke-width:0.2px;">Units</text>
<text x="652.25" y="286.4" class="sfb" font-size="10.4" text-anchor="middle" textLength="28.5" lengthAdjust="spacingAndGlyphs" style="fill:#fff;stroke:#fff;stroke-width:0.2px;"><tspan font-size="6.9">SAR</tspan><tspan dx="0.5">893</tspan></text>
<text x="652.25" y="295.1" class="ss" font-size="6.7" text-anchor="middle" textLength="19.25" lengthAdjust="spacingAndGlyphs" style="fill:#fff;stroke:#fff;stroke-width:0.2px;">Million</text>
<text x="600.25" y="321.12" class="ssb" font-size="5.3" text-anchor="middle" textLength="9.76" lengthAdjust="spacingAndGlyphs" style="stroke-width:0.42px;">26%</text>
<text x="600.25" y="328.43" class="ssb" font-size="5.6" text-anchor="middle" textLength="14.4" lengthAdjust="spacingAndGlyphs" style="stroke-width:0.35px;">Y-o-Y</text>
<text x="652.25" y="322.22" class="ssb" font-size="5.3" text-anchor="middle" textLength="9.76" lengthAdjust="spacingAndGlyphs" style="stroke-width:0.42px;">34%</text>
<text x="651.85" y="329.43" class="ssb" font-size="5.6" text-anchor="middle" textLength="14.9" lengthAdjust="spacingAndGlyphs" style="stroke-width:0.35px;">Y-o-Y</text>
<text x="797.25" y="245.95" class="sfb" font-size="8.7" text-anchor="middle" textLength="30.3" lengthAdjust="spacingAndGlyphs">Makkah</text>
<text x="775" y="285.11" class="sfb" font-size="10.4" text-anchor="middle" textLength="22" lengthAdjust="spacingAndGlyphs" style="fill:#fff;stroke:#fff;stroke-width:0.2px;">1,392</text>
<text x="775" y="294.1" class="ss" font-size="6.7" text-anchor="middle" textLength="15.5" lengthAdjust="spacingAndGlyphs" style="fill:#fff;stroke:#fff;stroke-width:0.2px;">Units</text>
<text x="826.38" y="286.4" class="sfb" font-size="10.4" text-anchor="middle" textLength="25.25" lengthAdjust="spacingAndGlyphs" style="fill:#fff;stroke:#fff;stroke-width:0.2px;"><tspan font-size="6.9">SAR</tspan><tspan dx="0.5">1.4</tspan></text>
<text x="826.88" y="295.1" class="ss" font-size="6.7" text-anchor="middle" textLength="17.75" lengthAdjust="spacingAndGlyphs" style="fill:#fff;stroke:#fff;stroke-width:0.2px;">Billion</text>
<text x="775" y="321.12" class="ssb" font-size="5.3" text-anchor="middle" textLength="11.38" lengthAdjust="spacingAndGlyphs" style="stroke-width:0.42px;">-10%</text>
<text x="775" y="328.43" class="ssb" font-size="5.6" text-anchor="middle" textLength="14.4" lengthAdjust="spacingAndGlyphs" style="stroke-width:0.35px;">Y-o-Y</text>
<text x="826.88" y="322.22" class="ssb" font-size="5.3" text-anchor="middle" textLength="8.67" lengthAdjust="spacingAndGlyphs" style="stroke-width:0.42px;">-4%</text>
<text x="826.48" y="329.43" class="ssb" font-size="5.6" text-anchor="middle" textLength="14.9" lengthAdjust="spacingAndGlyphs" style="stroke-width:0.35px;">Y-o-Y</text>
<text x="25.6" y="353.7" class="sfb" font-size="8.4" textLength="150.5" lengthAdjust="spacingAndGlyphs">Evolution of residential supply &amp; forecast</text>
<text x="36.3" y="364.25" class="ss" font-size="5.95" textLength="40.6" lengthAdjust="spacingAndGlyphs">Existing Supply</text>
<text x="95.9" y="364.21" class="ss" font-size="5.85" textLength="36.3" lengthAdjust="spacingAndGlyphs">Future Supply</text>
<text x="17.8" y="427.86" class="ss" font-size="6" text-anchor="middle" textLength="44" lengthAdjust="spacingAndGlyphs" transform="rotate(-90 17.8 425.8)">Thousands units</text>
<text x="102.3" y="380.68" class="sfb" font-size="8.8" text-anchor="middle" textLength="27.1" lengthAdjust="spacingAndGlyphs">Riyadh</text>
<text x="38.6" y="389.05" class="ss" font-size="5.1" text-anchor="end" textLength="10" lengthAdjust="spacingAndGlyphs">1700</text>
<text x="38.6" y="400.15" class="ss" font-size="5.1" text-anchor="end" textLength="10" lengthAdjust="spacingAndGlyphs">1500</text>
<text x="38.6" y="411.05" class="ss" font-size="5.1" text-anchor="end" textLength="10" lengthAdjust="spacingAndGlyphs">1300</text>
<text x="38.6" y="422.05" class="ss" font-size="5.1" text-anchor="end" textLength="10" lengthAdjust="spacingAndGlyphs">1100</text>
<text x="38.6" y="433.15" class="ss" font-size="5.1" text-anchor="end" textLength="8.6" lengthAdjust="spacingAndGlyphs">900</text>
<text x="38.6" y="444.05" class="ss" font-size="5.1" text-anchor="end" textLength="8.6" lengthAdjust="spacingAndGlyphs">700</text>
<text x="38.6" y="455.05" class="ss" font-size="5.1" text-anchor="end" textLength="8.6" lengthAdjust="spacingAndGlyphs">500</text>
<text x="38.6" y="465.95" class="ss" font-size="5.1" text-anchor="end" textLength="8.6" lengthAdjust="spacingAndGlyphs">300</text>
<text x="53.65" y="471.02" class="ss" font-size="5" text-anchor="middle">2020</text>
<text x="73.45" y="471.02" class="ss" font-size="5" text-anchor="middle">2021</text>
<text x="93.55" y="471.02" class="ss" font-size="5" text-anchor="middle">2022</text>
<text x="113.55" y="471.02" class="ss" font-size="5" text-anchor="middle">2023</text>
<text x="133.45" y="471.02" class="ss" font-size="5" text-anchor="middle">2024f</text>
<text x="153.45" y="471.02" class="ss" font-size="5" text-anchor="middle">2025f</text>
<text x="173.35" y="471.02" class="ss" font-size="5" text-anchor="middle">2026f</text>
<text x="276.7" y="380.68" class="sfb" font-size="8.8" text-anchor="middle" textLength="27.3" lengthAdjust="spacingAndGlyphs">Jeddah</text>
<text x="208.3" y="388.95" class="ss" font-size="5.1" text-anchor="end" textLength="10" lengthAdjust="spacingAndGlyphs">1000</text>
<text x="208.3" y="400.05" class="ss" font-size="5.1" text-anchor="end" textLength="8.6" lengthAdjust="spacingAndGlyphs">900</text>
<text x="208.3" y="411.15" class="ss" font-size="5.1" text-anchor="end" textLength="8.6" lengthAdjust="spacingAndGlyphs">800</text>
<text x="208.3" y="422.05" class="ss" font-size="5.1" text-anchor="end" textLength="8.6" lengthAdjust="spacingAndGlyphs">700</text>
<text x="208.3" y="432.85" class="ss" font-size="5.1" text-anchor="end" textLength="8.6" lengthAdjust="spacingAndGlyphs">600</text>
<text x="208.3" y="443.95" class="ss" font-size="5.1" text-anchor="end" textLength="8.6" lengthAdjust="spacingAndGlyphs">500</text>
<text x="208.3" y="454.85" class="ss" font-size="5.1" text-anchor="end" textLength="8.6" lengthAdjust="spacingAndGlyphs">400</text>
<text x="208.3" y="465.75" class="ss" font-size="5.1" text-anchor="end" textLength="8.6" lengthAdjust="spacingAndGlyphs">300</text>
<text x="223.2" y="471.02" class="ss" font-size="5" text-anchor="middle">2020</text>
<text x="243.2" y="471.02" class="ss" font-size="5" text-anchor="middle">2021</text>
<text x="263.1" y="471.02" class="ss" font-size="5" text-anchor="middle">2022</text>
<text x="282.9" y="471.02" class="ss" font-size="5" text-anchor="middle">2023</text>
<text x="302.9" y="471.02" class="ss" font-size="5" text-anchor="middle">2024f</text>
<text x="322.8" y="471.02" class="ss" font-size="5" text-anchor="middle">2025f</text>
<text x="342.8" y="471.02" class="ss" font-size="5" text-anchor="middle">2026f</text>
<text x="450.1" y="380.68" class="sfb" font-size="8.8" text-anchor="middle" textLength="19.2" lengthAdjust="spacingAndGlyphs">DMA</text>
<text x="379.1" y="388.95" class="ss" font-size="5.1" text-anchor="end" textLength="8.6" lengthAdjust="spacingAndGlyphs">400</text>
<text x="379.1" y="404.95" class="ss" font-size="5.1" text-anchor="end" textLength="8.6" lengthAdjust="spacingAndGlyphs">380</text>
<text x="379.1" y="420.05" class="ss" font-size="5.1" text-anchor="end" textLength="8.6" lengthAdjust="spacingAndGlyphs">360</text>
<text x="379.1" y="435.35" class="ss" font-size="5.1" text-anchor="end" textLength="8.6" lengthAdjust="spacingAndGlyphs">340</text>
<text x="379.1" y="451.15" class="ss" font-size="5.1" text-anchor="end" textLength="8.6" lengthAdjust="spacingAndGlyphs">320</text>
<text x="379.1" y="465.95" class="ss" font-size="5.1" text-anchor="end" textLength="8.6" lengthAdjust="spacingAndGlyphs">300</text>
<text x="394.45" y="471.02" class="ss" font-size="5" text-anchor="middle">2020</text>
<text x="414.35" y="471.02" class="ss" font-size="5" text-anchor="middle">2021</text>
<text x="434.35" y="471.02" class="ss" font-size="5" text-anchor="middle">2022</text>
<text x="454.35" y="471.02" class="ss" font-size="5" text-anchor="middle">2023</text>
<text x="474.35" y="471.02" class="ss" font-size="5" text-anchor="middle">2024f</text>
<text x="494.35" y="471.02" class="ss" font-size="5" text-anchor="middle">2025f</text>
<text x="514.05" y="471.02" class="ss" font-size="5" text-anchor="middle">2026f</text>
<text x="623.6" y="380.68" class="sfb" font-size="8.8" text-anchor="middle" textLength="33.4" lengthAdjust="spacingAndGlyphs">Madinah</text>
<text x="555" y="389.85" class="ss" font-size="5.1" text-anchor="end" textLength="8.6" lengthAdjust="spacingAndGlyphs">380</text>
<text x="555" y="408.95" class="ss" font-size="5.1" text-anchor="end" textLength="8.6" lengthAdjust="spacingAndGlyphs">360</text>
<text x="555" y="427.75" class="ss" font-size="5.1" text-anchor="end" textLength="8.6" lengthAdjust="spacingAndGlyphs">340</text>
<text x="555" y="446.85" class="ss" font-size="5.1" text-anchor="end" textLength="8.6" lengthAdjust="spacingAndGlyphs">320</text>
<text x="555" y="465.95" class="ss" font-size="5.1" text-anchor="end" textLength="8.6" lengthAdjust="spacingAndGlyphs">300</text>
<text x="570.1" y="471.02" class="ss" font-size="5" text-anchor="middle">2020</text>
<text x="590" y="471.02" class="ss" font-size="5" text-anchor="middle">2021</text>
<text x="610" y="471.02" class="ss" font-size="5" text-anchor="middle">2022</text>
<text x="630" y="471.02" class="ss" font-size="5" text-anchor="middle">2023</text>
<text x="650" y="471.02" class="ss" font-size="5" text-anchor="middle">2024f</text>
<text x="670" y="471.02" class="ss" font-size="5" text-anchor="middle">2025f</text>
<text x="689.9" y="471.02" class="ss" font-size="5" text-anchor="middle">2026f</text>
<text x="796.9" y="380.68" class="sfb" font-size="8.8" text-anchor="middle" textLength="30.3" lengthAdjust="spacingAndGlyphs">Makkah</text>
<text x="731" y="389.15" class="ss" font-size="5.1" text-anchor="end" textLength="8.6" lengthAdjust="spacingAndGlyphs">460</text>
<text x="731" y="399.35" class="ss" font-size="5.1" text-anchor="end" textLength="8.6" lengthAdjust="spacingAndGlyphs">440</text>
<text x="731" y="408.95" class="ss" font-size="5.1" text-anchor="end" textLength="8.6" lengthAdjust="spacingAndGlyphs">420</text>
<text x="731" y="418.45" class="ss" font-size="5.1" text-anchor="end" textLength="8.6" lengthAdjust="spacingAndGlyphs">400</text>
<text x="731" y="428.05" class="ss" font-size="5.1" text-anchor="end" textLength="8.6" lengthAdjust="spacingAndGlyphs">380</text>
<text x="731" y="437.55" class="ss" font-size="5.1" text-anchor="end" textLength="8.6" lengthAdjust="spacingAndGlyphs">360</text>
<text x="731" y="447.15" class="ss" font-size="5.1" text-anchor="end" textLength="8.6" lengthAdjust="spacingAndGlyphs">340</text>
<text x="731" y="456.45" class="ss" font-size="5.1" text-anchor="end" textLength="8.6" lengthAdjust="spacingAndGlyphs">320</text>
<text x="731" y="465.95" class="ss" font-size="5.1" text-anchor="end" textLength="8.6" lengthAdjust="spacingAndGlyphs">300</text>
<text x="746.3" y="471.02" class="ss" font-size="5" text-anchor="middle">2020</text>
<text x="766.2" y="471.02" class="ss" font-size="5" text-anchor="middle">2021</text>
<text x="786.2" y="471.02" class="ss" font-size="5" text-anchor="middle">2022</text>
<text x="806.2" y="471.02" class="ss" font-size="5" text-anchor="middle">2023</text>
<text x="825.9" y="471.02" class="ss" font-size="5" text-anchor="middle">2024f</text>
<text x="845.9" y="471.02" class="ss" font-size="5" text-anchor="middle">2025f</text>
<text x="865.7" y="471.02" class="ss" font-size="5" text-anchor="middle">2026f</text>
<text x="870.8" y="482.85" class="ss" font-size="5.1" text-anchor="end" textLength="61.7" lengthAdjust="spacingAndGlyphs">Source: Knight Frank, MOJ</text>
<text x="25.8" y="491.9" class="sfb" font-size="8.6" textLength="54.1" lengthAdjust="spacingAndGlyphs">Key Highlights</text>
<text x="25.3" y="510.5" class="sf" font-size="8.7" textLength="195.3" lengthAdjust="spacingAndGlyphs">Residential transaction volumes and values in Saudi Arabia</text>
<text x="25.3" y="519.55" class="sf" font-size="8.7" textLength="197.9" lengthAdjust="spacingAndGlyphs">increased by 12% (45,924 deals) and 25% (SAR 35.4bn) in the</text>
<text x="25.3" y="528.6" class="sf" font-size="8.7" textLength="48.5" lengthAdjust="spacingAndGlyphs">last 12 months.</text>
<text x="241.2" y="510.5" class="sf" font-size="8.7" textLength="167.8" lengthAdjust="spacingAndGlyphs">All the major Saudi cities have witnessed a positive</text>
<text x="241.2" y="519.55" class="sf" font-size="8.7" textLength="196" lengthAdjust="spacingAndGlyphs">year-on-year change in the volume and values of residential</text>
<text x="241.2" y="528.6" class="sf" font-size="8.7" textLength="167.8" lengthAdjust="spacingAndGlyphs">transactions except Makkah. Riyadh has registered</text>
<text x="241.2" y="537.65" class="sf" font-size="8.7" textLength="195.5" lengthAdjust="spacingAndGlyphs">significant levels of growth in the number and total value of</text>
<text x="241.2" y="546.7" class="sf" font-size="8.7" textLength="159.3" lengthAdjust="spacingAndGlyphs">sales, which are up by 16% and 41%, respectively.</text>
<text x="457.3" y="510.5" class="sf" font-size="8.7" textLength="184.3" lengthAdjust="spacingAndGlyphs">Banks and financial institutions in Saudi Arabia granted</text>
<text x="457.3" y="519.55" class="sf" font-size="8.7" textLength="194.9" lengthAdjust="spacingAndGlyphs">residential mortgage loans  worth SAR 55.7 bn (US$14.8 bn)</text>
<text x="457.3" y="528.6" class="sf" font-size="8.7" textLength="192.8" lengthAdjust="spacingAndGlyphs">to individuals  during the first eight months of  2024, up by</text>
<text x="457.3" y="537.65" class="sf" font-size="8.7" textLength="127" lengthAdjust="spacingAndGlyphs">3% year-on-year  (Saudi Central Bank).</text>
<text x="673.3" y="510.5" class="sf" font-size="8.7" textLength="183" lengthAdjust="spacingAndGlyphs">The current supply in Saudi Arabia's five major markets</text>
<text x="673.3" y="519.55" class="sf" font-size="8.7" textLength="174.2" lengthAdjust="spacingAndGlyphs">stands at 3.5 million units. Knight Frank forecasts the</text>
<text x="673.3" y="528.6" class="sf" font-size="8.7" textLength="200" lengthAdjust="spacingAndGlyphs">residential supply to reach nearly 3.7 million units by the end</text>
<text x="673.3" y="537.65" class="sf" font-size="8.7" textLength="27.2" lengthAdjust="spacingAndGlyphs">of 2026.</text>
<text x="16" y="593.85" class="ss" font-size="4.5" textLength="44.75" lengthAdjust="spacingAndGlyphs">Discover our research:</text>
<text x="16" y="601.95" class="ss" font-size="4.5" textLength="63" lengthAdjust="spacingAndGlyphs" style="fill:#c4122f;stroke:#c4122f;">knightfrank.com.sa/en/research</text>
<text x="118.8" y="598.22" class="ssb" font-size="5.3" textLength="15.6" lengthAdjust="spacingAndGlyphs" style="fill:#d7263d;stroke:#d7263d;stroke-width:0.15px;">Knight</text>
<text x="118.8" y="603.22" class="ssb" font-size="5.3" textLength="13" lengthAdjust="spacingAndGlyphs" style="fill:#d7263d;stroke:#d7263d;stroke-width:0.15px;">Frank</text>
<text x="171.7" y="574.91" class="ssb" font-size="7" textLength="28.8" lengthAdjust="spacingAndGlyphs">Contacts</text>
<text x="171.7" y="585.58" class="ssb" font-size="4.6" textLength="36.3" lengthAdjust="spacingAndGlyphs" style="stroke-width:0.45px;">SUSAN AMAWI</text>
<text x="172" y="594.01" class="ss" font-size="4.4" textLength="46.3" lengthAdjust="spacingAndGlyphs" style="stroke-width:0.17px;">General Manager - KSA</text>
<text x="172" y="602.01" class="ss" font-size="4.4" textLength="68.7" lengthAdjust="spacingAndGlyphs" style="stroke-width:0.17px;">susan.amawi@me.knightfrank.com</text>
<text x="251.4" y="585.58" class="ssb" font-size="4.6" textLength="44.5" lengthAdjust="spacingAndGlyphs" style="stroke-width:0.45px;">HARMEN DE JONG</text>
<text x="251.7" y="593.71" class="ss" font-size="4.4" textLength="52" lengthAdjust="spacingAndGlyphs" style="stroke-width:0.17px;">Regional Partner - Head of</text>
<text x="251.7" y="600.11" class="ss" font-size="4.4" textLength="39.2" lengthAdjust="spacingAndGlyphs" style="stroke-width:0.17px;">Consultancy, MENA</text>
<text x="251.7" y="606.81" class="ss" font-size="4.4" textLength="73.2" lengthAdjust="spacingAndGlyphs" style="stroke-width:0.17px;">harmen.dejong@me.knightfrank.com</text>
<text x="339.3" y="585.58" class="ssb" font-size="4.6" textLength="35.9" lengthAdjust="spacingAndGlyphs" style="stroke-width:0.45px;">YAZEED HIJAZI</text>
<text x="339.6" y="593.71" class="ss" font-size="4.4" textLength="78.7" lengthAdjust="spacingAndGlyphs" style="stroke-width:0.17px;">Associate Partner - Co-Head of Strategy</text>
<text x="339.6" y="600.11" class="ss" font-size="4.4" textLength="43.1" lengthAdjust="spacingAndGlyphs" style="stroke-width:0.17px;">and Consultancy, KSA</text>
<text x="339.6" y="606.81" class="ss" font-size="4.4" style="stroke-width:0.17px;">yazeed.hijazi@me.knightfrank.com</text>
<text x="430.5" y="585.58" class="ssb" font-size="4.6" textLength="58.9" lengthAdjust="spacingAndGlyphs" style="stroke-width:0.45px;">MOHAMAD RABIH ITANI</text>
<text x="430.8" y="593.71" class="ss" font-size="4.4" textLength="75.6" lengthAdjust="spacingAndGlyphs" style="stroke-width:0.17px;">Partner - Residential Project Sales and</text>
<text x="430.8" y="599.31" class="ss" font-size="4.4" style="stroke-width:0.17px;">Marketing, KSA</text>
<text x="430.8" y="606.81" class="ss" font-size="4.4" textLength="71.9" lengthAdjust="spacingAndGlyphs" style="stroke-width:0.17px;">mohamad.itani@me.knightfrank.com</text>
<text x="529" y="585.58" class="ssb" font-size="4.6" textLength="60.8" lengthAdjust="spacingAndGlyphs" style="stroke-width:0.45px;">TALAL RAQABAN, MRICS</text>
<text x="529.3" y="593.71" class="ss" font-size="4.4" textLength="90.6" lengthAdjust="spacingAndGlyphs" style="stroke-width:0.17px;">Partner - Head of Valuation and Advisory, KSA</text>
<text x="529.3" y="602.01" class="ss" font-size="4.4" textLength="68.2" lengthAdjust="spacingAndGlyphs" style="stroke-width:0.17px;">talal.raqaban@me.knightfrank.com</text>
<text x="636.2" y="585.58" class="ssb" font-size="4.6" textLength="42.4" lengthAdjust="spacingAndGlyphs" style="stroke-width:0.45px;">FAISAL DURRANI</text>
<text x="636.5" y="593.61" class="ss" font-size="4.4" textLength="69.3" lengthAdjust="spacingAndGlyphs" style="stroke-width:0.17px;">Partner - Head of Research, MENA</text>
<text x="636.5" y="601.71" class="ss" font-size="4.4" textLength="68" lengthAdjust="spacingAndGlyphs" style="stroke-width:0.17px;">faisal.durrani@me.knightfrank.com</text>
<text x="724.2" y="585.58" class="ssb" font-size="4.6" textLength="38.7" lengthAdjust="spacingAndGlyphs" style="stroke-width:0.45px;">AMAR HUSSAIN</text>
<text x="724.5" y="593.61" class="ss" font-size="4.4" textLength="66.4" lengthAdjust="spacingAndGlyphs" style="stroke-width:0.17px;">Associate Partner - Research, ME</text>
<text x="724.5" y="601.71" class="ss" font-size="4.4" textLength="69.2" lengthAdjust="spacingAndGlyphs" style="stroke-width:0.17px;">amar.hussain@me.knightfrank.com</text>
<text x="807.1" y="585.58" class="ssb" font-size="4.6" textLength="39.3" lengthAdjust="spacingAndGlyphs" style="stroke-width:0.45px;">VERA ZABELINA</text>
<text x="807.4" y="592.71" class="ss" font-size="4.4" textLength="34.4" lengthAdjust="spacingAndGlyphs" style="stroke-width:0.17px;">Research Analyst</text>
<text x="807.4" y="601.11" class="ss" font-size="4.4" textLength="68.7" lengthAdjust="spacingAndGlyphs" style="stroke-width:0.17px;">vera.zabelina@me.knightfrank.com</text>
<text x="274" y="626.14" class="ss" font-size="6.5" textLength="212.4" lengthAdjust="spacingAndGlyphs">Knight Frank, Building 7, Laysen Valley, Riyadh, Kingdom of Saudi Arabia</text>
<text x="496" y="626.17" class="ss" font-size="6.6" text-anchor="middle" style="stroke-width:0.1px;">I</text>
<text x="501.9" y="626.14" class="ss" font-size="6.5" textLength="270.9" lengthAdjust="spacingAndGlyphs">Knight Frank, 47th floor, The Headquarters Business Park, Jeddah, Kingdom of Saudi Arabia</text>
</svg>
</body></html>
